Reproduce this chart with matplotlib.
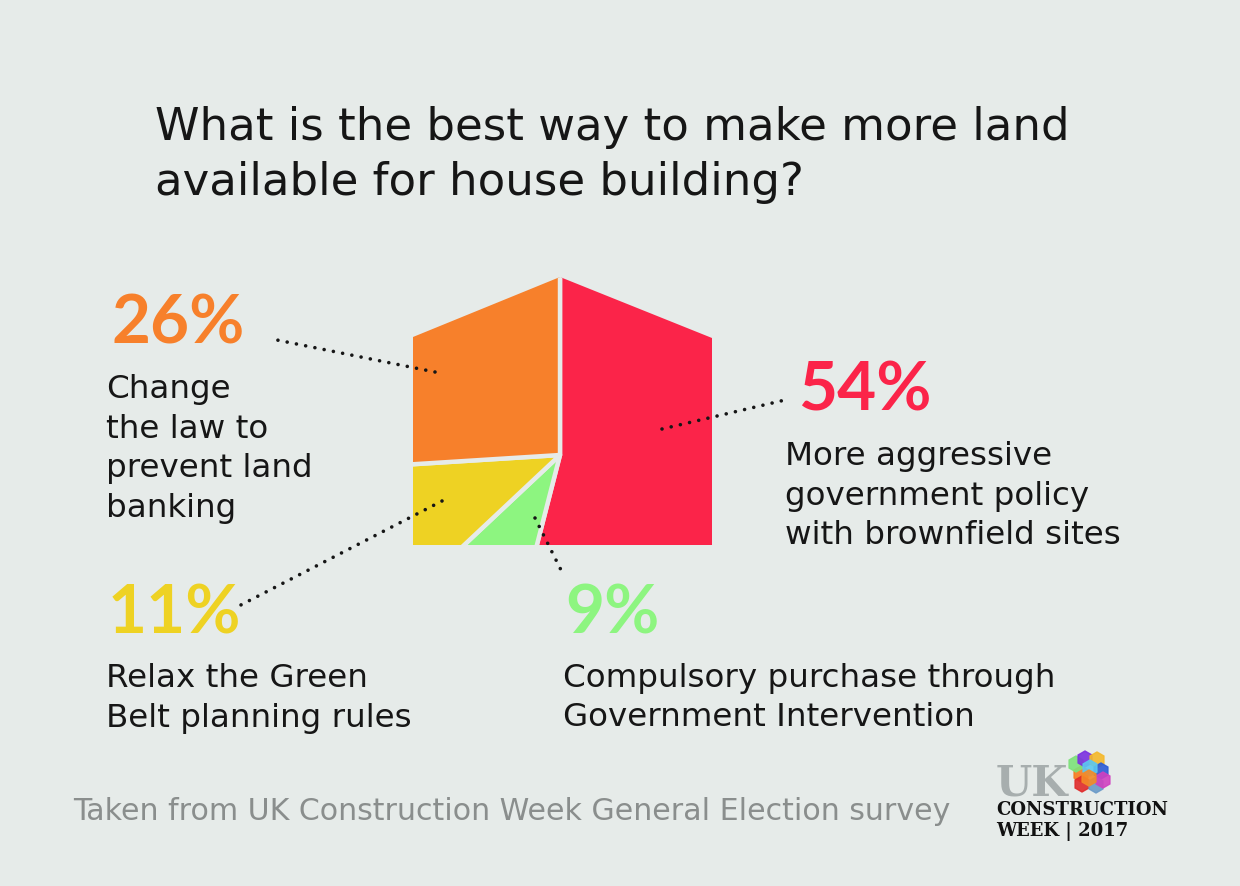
import matplotlib.pyplot as plt
from matplotlib.patches import Polygon, RegularPolygon

# ---- data ----
labels = ["More aggressive\ngovernment policy\nwith brownfield sites",
          "Compulsory purchase through\nGovernment Intervention",
          "Relax the Green\nBelt planning rules",
          "Change\nthe law to\nprevent land\nbanking"]
shares = [54, 9, 11, 26]
colors = ["#fb2449", "#8df580", "#eed223", "#f7802b"]

title = ["What is the best way to make more land",
         "available for house building?"]
source = "Taken from UK Construction Week General Election survey"

bg = "#e6ebe9"
ink = "#161616"
body_font = "DejaVu Sans"

fig = plt.figure(figsize=(12.4, 8.86), dpi=100, facecolor=bg)
ax = fig.add_axes([0, 0, 1, 1])
ax.set_facecolor(bg)

# house-shaped outline used to clip the pie (pixel coords, y down)
house = Polygon([(413, 337), (560, 277), (712, 338), (712, 545), (413, 545)],
                closed=True, facecolor="none", edgecolor="none")
ax.add_patch(house)

# y axis is inverted below, so startangle=-90 + counterclock = clockwise from the top
wedges, _ = ax.pie(shares, colors=colors, center=(560, 455), radius=300,
                   startangle=-90, counterclock=True,
                   wedgeprops=dict(edgecolor=bg, linewidth=3.2, joinstyle="round"))
for w in wedges:
    w.set_clip_on(True)   # pie turns clipping off by default
    w.set_clip_path(house)

ax.set_xlim(0, 1240)
ax.set_ylim(886, 0)
ax.axis("off")

# title, one text per line
for i, line in enumerate(title):
    ax.text(155, 140 + i * 55, line, fontsize=32.4, family=body_font,
            color=ink, va="baseline", ha="left")

# labels: (percent x, percent baseline, text x, first text baseline)
spots = [(798, 410, 785, 465),
         (565, 633, 563, 687),
         (108, 633, 106, 687),
         (111, 344, 106, 398)]
for (px, py, tx, ty), s, c, lab in zip(spots, shares, colors, labels):
    ax.text(px, py, f"{s}%", fontsize=48.5, fontweight="bold", family="Lato",
            color=c, va="baseline", ha="left")
    for i, line in enumerate(lab.split("\n")):
        ax.text(tx, ty + i * 39.5, line, fontsize=23.4, family=body_font,
                color=ink, va="baseline", ha="left")

# dotted leader lines
leaders = [((662, 429), (785, 400)),
           ((535, 518), (563, 574)),
           ((442, 501), (235, 608)),
           ((435, 372), (272, 339))]
for (x0, y0), (x1, y1) in leaders:
    ax.plot([x0, x1], [y0, y1], color=ink, lw=2.6,
            linestyle=(0, (0.01, 2.6)), dash_capstyle="round")

# footer
ax.text(73, 820, source, fontsize=21.6, family=body_font, color="#8a8e8d",
        va="baseline", ha="left")

# logo
ax.text(996, 795, "UK", fontsize=30, fontweight="bold", family="DejaVu Serif",
        color="#a7aeae", va="baseline", ha="left")
cube = [(1081, 774, "#f77a1e"), (1076, 764, "#7de27a"), (1085, 759, "#7b2fe0"),
        (1097, 760, "#f5b82a"), (1101, 771, "#2a5bd8"), (1090, 768, "#5bc8f0"),
        (1082, 784, "#e02a2a"), (1096, 785, "#6a9ac8"), (1103, 780, "#d040c0"),
        (1089, 778, "#f48a28")]
for cx, cy, col in cube:
    ax.add_patch(RegularPolygon((cx, cy), 6, radius=8, color=col, alpha=0.9))
ax.text(996, 815, "CONSTRUCTION", fontsize=13, fontweight="bold",
        family="DejaVu Serif", color="#111111", va="baseline", ha="left")
ax.text(996, 836, "WEEK | 2017", fontsize=13, fontweight="bold",
        family="DejaVu Serif", color="#111111", va="baseline", ha="left")

fig.savefig("out.png", dpi=100, facecolor=bg)
